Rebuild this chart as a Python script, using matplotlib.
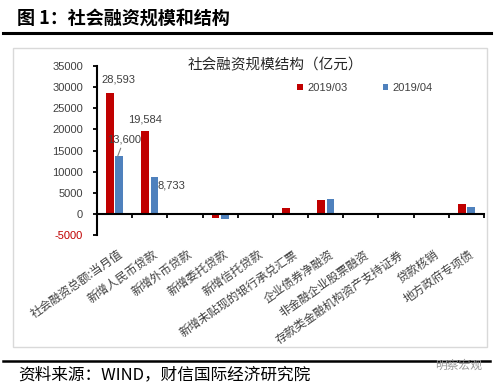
import numpy as np
import matplotlib
matplotlib.use("Agg")
import matplotlib.pyplot as plt
from matplotlib.patches import Rectangle
from matplotlib.lines import Line2D
from matplotlib.transforms import offset_copy

plt.rcParams['font.family'] = ['Noto Sans CJK SC', 'DejaVu Sans']

categories = ['社会融资总额:当月值', '新增人民币贷款', '新增外币贷款', '新增委托贷款',
              '新增信托贷款', '新增未贴现的银行承兑汇票', '企业债券净融资',
              '非金融企业股票融资', '存款类金融机构资产支持证券', '贷款核销', '地方政府专项债']
series_names = ['2019/03', '2019/04']
mar_2019 = [28593, 19584, -40, -1029, 300, 1300, 3300, 0, 0, 0, 2450]
apr_2019 = [13600, 8733, -250, -1186, -30, -200, 3500, 0, 0, 0, 1600]
labelled = {(0, 0): 28593, (1, 0): 13600, (0, 1): 19584, (1, 1): 8733}
yticks = list(range(-5000, 35001, 5000))

RED = '#C00000'
BLUE = '#4F81BD'
GRAY = '#404040'

fig = plt.figure(figsize=(5.0, 3.89), dpi=100)

# outer decorations
fig.text(0.034, 0.954, '图 1：社会融资规模和结构', fontsize=13, fontweight='bold',
         va='center', ha='left', color='black')
fig.add_artist(Line2D([0.006, 0.982], [0.914, 0.914], transform=fig.transFigure,
                      color='black', lw=2.2))
fig.add_artist(Rectangle((0.026, 0.108), 0.948, 0.769, transform=fig.transFigure,
                         fill=False, edgecolor='#d9d9d9', lw=1.0))
fig.add_artist(Line2D([0.006, 0.98], [0.072, 0.072], transform=fig.transFigure,
                      color='black', lw=1.8))
fig.text(0.036, 0.036, '资料来源：WIND，财信国际经济研究院', fontsize=12,
         style='italic', va='center', ha='left', color='black')
fig.text(0.87, 0.062, '明察宏观', fontsize=8.5, color='#9a9a9a', va='center', ha='left')

ax = fig.add_axes([0.194, 0.396, 0.774, 0.434])

x = np.arange(len(categories))
w = 0.22
off = 0.135
ax.bar(x - off, mar_2019, width=w, color=RED, label=series_names[0], zorder=2)
ax.bar(x + off, apr_2019, width=w, color=BLUE, label=series_names[1], zorder=2)

ax.set_xlim(-0.5, len(categories) - 0.5)
ax.set_ylim(yticks[0], yticks[-1])
ax.set_yticks(yticks)
ax.set_yticklabels([str(t) for t in yticks], fontfamily='Liberation Sans', fontsize=8)
for t, lab in zip(yticks, ax.get_yticklabels()):
    lab.set_color(RED if t < 0 else GRAY)

ax.set_xticks(np.arange(-0.5, len(categories), 1.0))
ax.set_xticklabels([])
ax.tick_params(axis='x', direction='out', length=3, width=1.3, color='black')
ax.tick_params(axis='y', direction='out', length=3, width=1.3, color='black', pad=7)

for s in ['top', 'right']:
    ax.spines[s].set_visible(False)
ax.spines['bottom'].set_position(('data', 0))
ax.spines['bottom'].set_linewidth(1.5)
ax.spines['left'].set_linewidth(1.5)
ax.patch.set_visible(False)

# category labels
for i, c in enumerate(categories):
    ax.text(i + 0.07, -0.075, c, transform=ax.get_xaxis_transform(), rotation=35,
            rotation_mode='anchor', ha='right', va='top', fontsize=8.5, color=GRAY)

# data labels
lab_cfg = {
    (0, 0): dict(dx=6.2, dy=9.6, arrow=False),
    (1, 0): dict(dx=4.7, dy=12.5, arrow=True),
    (0, 1): dict(dx=0.0, dy=8.7, arrow=False),
    (1, 1): dict(dx=12.4, dy=-6.4, arrow=False),
}
for (s, i), val in labelled.items():
    cfg = lab_cfg[(s, i)]
    xb = i - off if s == 0 else i + off
    kw = dict(xy=(xb, val), xytext=(cfg['dx'], cfg['dy']), textcoords='offset points',
              ha='center', va='center', fontsize=8, fontfamily='Liberation Sans', color=GRAY)
    if cfg['arrow']:
        kw['arrowprops'] = dict(arrowstyle='-', color='#7f7f7f', lw=0.8, shrinkA=1, shrinkB=0)
        kw['xy'] = (xb - 0.05, val)
    ax.annotate(f'{val:,}', **kw)

fig.text(0.551, 0.833, '社会融资规模结构（亿元）', fontsize=10.5, ha='center', va='center',
         color='#262626')
handles, labels = ax.get_legend_handles_labels()
leg = fig.legend(handles, labels, loc='center', bbox_to_anchor=(0.73, 0.774), ncol=2,
                 frameon=False, handlelength=0.5, handleheight=0.5, handletextpad=0.4,
                 columnspacing=3.2, prop={'family': 'Liberation Sans', 'size': 8})
for t in leg.get_texts():
    t.set_color(GRAY)

fig.savefig('out.png', dpi=100)
